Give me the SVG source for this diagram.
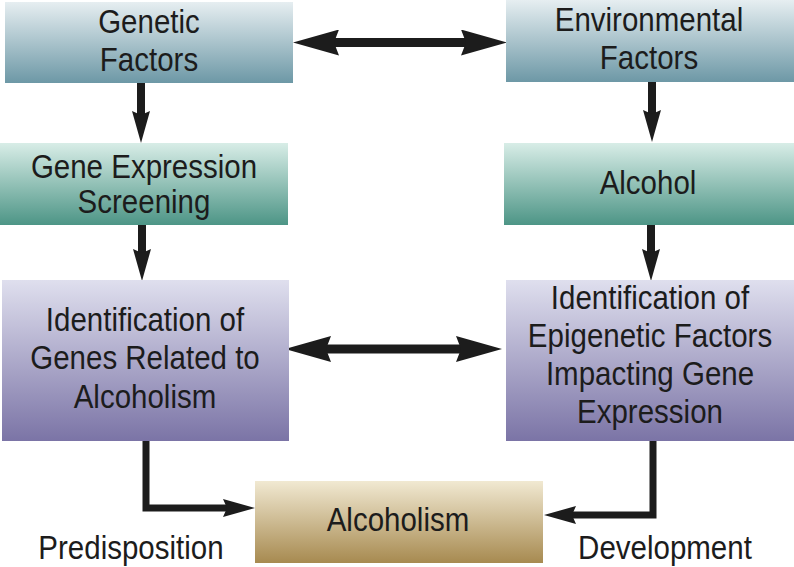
<svg xmlns="http://www.w3.org/2000/svg" width="794" height="567" viewBox="0 0 794 567">
<style>
text{font-family:"Liberation Sans",Arial,sans-serif;font-size:29.5px;fill:#1c1c1c;text-anchor:middle;transform-box:fill-box;transform-origin:center;transform:scaleY(1.12)}
.big{fill:none;stroke:#1c1c1c;stroke-width:9;stroke-linejoin:miter}
.sm{fill:none;stroke:#1c1c1c;stroke-width:8;stroke-linejoin:miter}
.el{fill:none;stroke:#1c1c1c;stroke-width:7;stroke-linejoin:miter}
</style>
<defs>
<linearGradient id="gBlue" x1="0" y1="0" x2="0" y2="1"><stop offset="0" stop-color="#e6eef1"/><stop offset="1" stop-color="#6d98a6"/></linearGradient>
<linearGradient id="gTeal" x1="0" y1="0" x2="0" y2="1"><stop offset="0" stop-color="#d8ede7"/><stop offset="1" stop-color="#4d9586"/></linearGradient>
<linearGradient id="gPurp" x1="0" y1="0" x2="0" y2="1"><stop offset="0" stop-color="#dfdfee"/><stop offset="1" stop-color="#7b74a6"/></linearGradient>
<linearGradient id="gTan" x1="0" y1="0" x2="0" y2="1"><stop offset="0" stop-color="#f1e9d2"/><stop offset="1" stop-color="#a78a50"/></linearGradient>
<marker id="hBig" markerUnits="userSpaceOnUse" viewBox="0 0 46 26" markerWidth="46" markerHeight="26" refX="16" refY="13" orient="auto-start-reverse"><path d="M0,0 L46,13 L0,26 L5,13 Z" fill="#1c1c1c"/></marker>
<marker id="hSm" markerUnits="userSpaceOnUse" viewBox="0 0 32 18" markerWidth="32" markerHeight="18" refX="12" refY="9" orient="auto-start-reverse"><path d="M0,0 L32,9 L0,18 L4,9 Z" fill="#1c1c1c"/></marker>
</defs>
<g id="connectors">
<path class="big" d="M323,42.5 H477" marker-start="url(#hBig)" marker-end="url(#hBig)"/>
<path class="big" d="M315,349 H472" marker-start="url(#hBig)" marker-end="url(#hBig)"/>
<path class="sm" d="M141,83 V123" marker-end="url(#hSm)"/>
<path class="sm" d="M142,225 V261" marker-end="url(#hSm)"/>
<path class="sm" d="M652,82 V122" marker-end="url(#hSm)"/>
<path class="sm" d="M651,225 V261" marker-end="url(#hSm)"/>
<path class="el" d="M146,441 V508 H235" marker-end="url(#hSm)"/>
<path class="el" d="M653,441 V515 H564" marker-end="url(#hSm)"/>
</g>
<g id="genetic"><rect x="5" y="2" width="288" height="81" fill="url(#gBlue)"/><text x="149" y="32">Genetic</text><text x="149" y="70">Factors</text></g>
<g id="environmental"><rect x="506" y="0" width="288" height="82" fill="url(#gBlue)"/><text x="649" y="30">Environmental</text><text x="649" y="68">Factors</text></g>
<g id="screening"><rect x="0" y="143" width="288" height="82" fill="url(#gTeal)"/><text x="144" y="177">Gene Expression</text><text x="144" y="212">Screening</text></g>
<g id="alcohol"><rect x="504" y="143" width="290" height="82" fill="url(#gTeal)"/><text x="648" y="193">Alcohol</text></g>
<g id="genes"><rect x="2" y="280" width="287" height="161" fill="url(#gPurp)"/><text x="145" y="330">Identification of</text><text x="145" y="368">Genes Related to</text><text x="145" y="407">Alcoholism</text></g>
<g id="epigenetic"><rect x="506" y="280" width="288" height="161" fill="url(#gPurp)"/><text x="650" y="308">Identification of</text><text x="650" y="346">Epigenetic Factors</text><text x="650" y="384">Impacting Gene</text><text x="650" y="422">Expression</text></g>
<g id="alcoholism"><rect x="255" y="481" width="288" height="82" fill="url(#gTan)"/><text x="398" y="530">Alcoholism</text></g>
<g id="labels"><text x="131" y="558">Predisposition</text><text x="665" y="558">Development</text></g>
</svg>
